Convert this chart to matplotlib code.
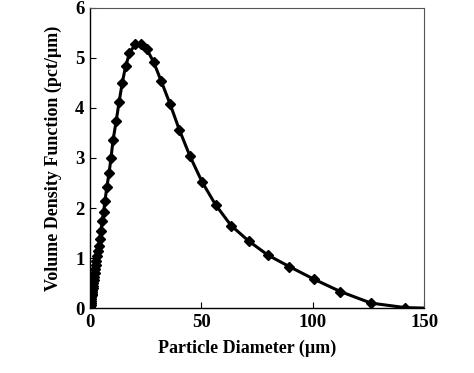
import matplotlib
matplotlib.use("Agg")
import matplotlib.pyplot as plt

plt.rcParams['font.family'] = ['Liberation Serif', 'DejaVu Serif']
plt.rcParams['font.weight'] = 'bold'

diameter = [0.05, 0.1, 0.2, 0.3, 0.4, 0.5, 0.6, 0.7, 0.8, 0.9, 1.0, 1.12, 1.26, 1.41, 1.58, 1.78, 2.0,
            2.24, 2.5, 2.8, 3.15, 3.5, 3.9, 4.3, 4.9, 5.5, 6.1, 6.7, 7.5, 8.5, 9.4, 10.3,
            11.7, 13.0, 14.4, 16.0, 17.7, 20.2, 22.8, 25.4, 28.6, 31.9, 35.9, 40.1,
            44.9, 50.3, 56.4, 63.3, 71.2, 79.8, 89.4, 100.4, 112.4, 126.1, 141.4]
volume_density = [0.0, 0.03, 0.07, 0.11, 0.15, 0.19, 0.22, 0.26, 0.29, 0.33, 0.36, 0.40, 0.45,
                  0.50, 0.56, 0.63, 0.70, 0.78, 0.86, 0.95, 1.05, 1.14, 1.25, 1.38, 1.55,
                  1.74, 1.93, 2.14, 2.41, 2.69, 3.00, 3.35, 3.73, 4.11, 4.49, 4.84, 5.09,
                  5.27, 5.28, 5.18, 4.91, 4.54, 4.08, 3.56, 3.03, 2.52, 2.06, 1.65, 1.34,
                  1.06, 0.83, 0.58, 0.33, 0.10, 0.01]
x_ticks = [0, 50, 100, 150]
y_ticks = [0, 1, 2, 3, 4, 5, 6]

fig = plt.figure(figsize=(4.74, 3.73), dpi=100)
ax = fig.add_axes([0.190, 0.174, 0.705, 0.805])
ax.plot(diameter + [150], volume_density + [0.0], color='black', lw=2.2, zorder=2)
ax.plot(diameter, volume_density, linestyle='none', marker='D', markersize=5,
        color='black', zorder=3)

ax.set_xlim(0, 150)
ax.set_ylim(0, 6)
ax.set_xticks(x_ticks)
ax.set_yticks(y_ticks)
ax.tick_params(direction='in', length=4, width=0.8, labelsize=13.5, pad=4)
for lab in ax.get_xticklabels() + ax.get_yticklabels():
    lab.set_fontweight('bold')
for s in ['left', 'bottom']:
    ax.spines[s].set_color('black')
    ax.spines[s].set_linewidth(1.0)
for s in ['top', 'right']:
    ax.spines[s].set_color('#555555')
    ax.spines[s].set_linewidth(0.8)

ax.set_xlabel('Particle Diameter (µm)', fontsize=13, fontweight='bold')
ax.xaxis.set_label_coords(0.47, -0.105)
ax.set_ylabel('Volume Density Function (pct/µm)', fontsize=13, fontweight='bold')
ax.yaxis.set_label_coords(-0.085, 0.5)

fig.savefig('out.png', dpi=100)
